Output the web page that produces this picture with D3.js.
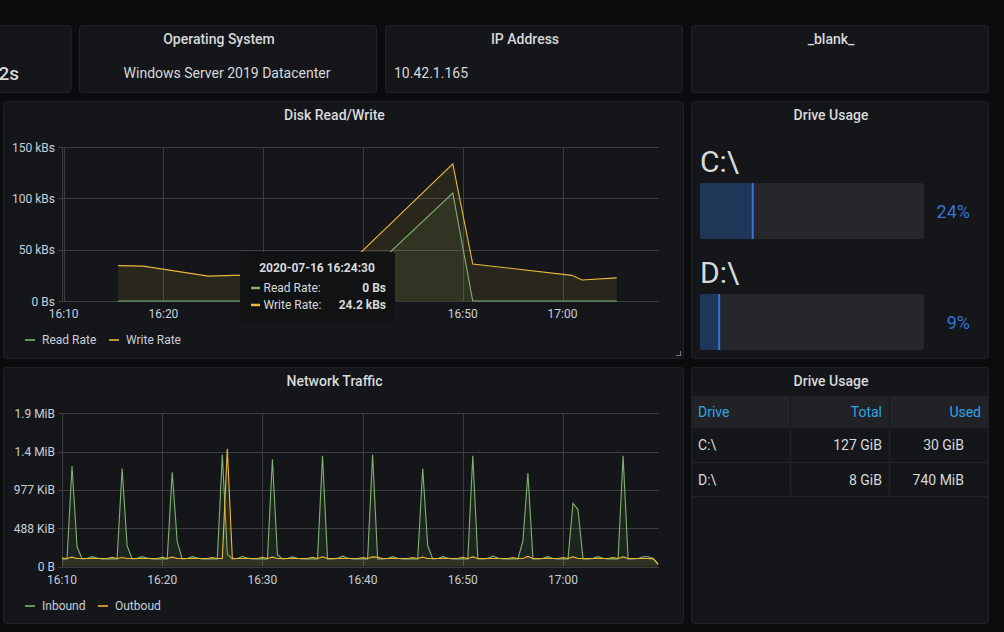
<!DOCTYPE html>
<html><head><meta charset="utf-8">
<script src="https://cdn.jsdelivr.net/npm/d3@7"></script>
<style>
html,body{margin:0;padding:0;background:#0b0c0e;overflow:hidden;}
svg{display:block;font-family:Roboto,"Open Sans",sans-serif;}
</style></head><body>
<svg id="c" width="1004" height="632"></svg>
<script>
// ---------- DATA ----------
const statTitles = ["", "Operating System", "IP Address", "_blank_"];
const statValues = ["2s", "Windows Server 2019 Datacenter", "10.42.1.165", ""];

const diskTimes = ["16:15:28","16:17:58","16:24:30","16:27:00","16:37:30","16:49:00","16:51:00","17:00:56","17:01:56","17:05:26"];
const diskRead  = [0, 0, 0, 0, 0, 105, 0, 0, 0, 0];          // kB/s
const diskWrite = [34.5, 34, 24.2, 25, 26, 133.5, 36, 25, 20.5, 22.5]; // kB/s
const diskYTicks = [0, 50, 100, 150];
const diskYLabels = ["0 Bs", "50 kBs", "100 kBs", "150 kBs"];

const netStart = "16:10:00";   // samples every 30 s
const netInbound = [ // thousand bytes
 100,100,1310,261,100,104,128,112,100,100,
 100,100,1280,270,100,106,128,110,100,100,
 100,100,1230,326,100,104,128,110,100,100,
 100,100,1460,162,100,104,130,110,100,100,
 100,100,1400,155,100,104,125,108,100,100,
 100,100,1445,100,100,106,135,110,100,100,
 100,100,1460,100,100,104,128,108,100,100,
 100,100,1280,270,100,104,128,110,100,100,
 100,100,1445,100,100,106,135,110,100,100,
 100,100,330,1220,100,100,106,128,104,100,
 100,100,827,740,100,100,106,128,108,100,
 100,100,1445,100,100,104,128,128,108,30];
const netOutbound = [ // thousand bytes
 110,104,122,105,104,104,104,104,104,104,
 120,104,118,104,104,104,104,104,104,104,
 120,104,122,104,104,104,104,104,104,104,
 118,104,105,1537,104,104,104,104,104,104,
 120,104,122,104,104,104,104,104,104,104,
 120,104,125,104,104,104,104,104,104,104,
 118,104,125,120,104,104,104,104,104,104,
 118,104,122,104,104,104,104,104,104,104,
 120,104,125,104,104,104,104,104,104,104,
 118,104,104,132,104,104,104,104,104,104,
 118,104,125,104,104,104,104,104,104,104,
 118,104,125,104,104,104,104,104,100,30];
const netYTicks = [0, 500000, 1000000, 1500000, 2000000];
const netYLabels = ["0 B", "488 KiB", "977 KiB", "1.4 MiB", "1.9 MiB"];

const xTickTimes = ["16:10","16:20","16:30","16:40","16:50","17:00"];

const driveNames = ["C:\\", "D:\\"];
const drivePct = [24, 9];

const tableHeader = ["Drive", "Total", "Used"];
const tableDrive = ["C:\\", "D:\\"];
const tableTotal = ["127 GiB", "8 GiB"];
const tableUsed = ["30 GiB", "740 MiB"];

// ---------- STYLE ----------
const C = {panel:"#141619", border:"#202226", title:"#d8d9da", text:"#c7d0d9",
  grid:"#3d3e42", green:"#7eb26d", yellow:"#eab839", blue:"#3274d9", link:"#33a2e5"};
const svg = d3.select("#c");
const pt = d3.timeParse("%H:%M:%S");
const ptm = d3.timeParse("%H:%M");

function panel(x0,y0,x1,y1,title){
  svg.append("rect").attr("x",x0+0.5).attr("y",y0+0.5).attr("width",x1-x0-1).attr("height",y1-y0-1)
    .attr("rx",3).attr("fill",C.panel).attr("stroke",C.border);
  if(title) svg.append("text").attr("x",(x0+x1)/2-9).attr("y",y0+19).attr("text-anchor","middle")
    .attr("fill",C.title).attr("font-size",14).attr("font-weight",500).text(title);
}

// ---------- TOP STAT ROW ----------
const statBoxes = [[-20,71.5],[79,377],[385,683],[691,989]];
statBoxes.forEach((b,i)=>{
  panel(b[0],25,b[1],93,statTitles[i]);
});
svg.append("text").attr("x",19).attr("y",79.5).attr("text-anchor","end").attr("fill",C.title)
  .attr("font-size",19).attr("font-weight",500).text(statValues[0]);
svg.append("text").attr("x",227).attr("y",78).attr("text-anchor","middle").attr("fill",C.title)
  .attr("font-size",14).text(statValues[1]);
svg.append("text").attr("x",394).attr("y",78).attr("fill",C.title)
  .attr("font-size",14).text(statValues[2]);

// ---------- GRAPH HELPER ----------
function graph(o){
  const g = svg.append("g");
  const x = o.x, y = o.y;
  const [xl,xr] = x.range(), [yb,yt] = y.range();
  g.selectAll(".hg").data(o.yTicks).join("line")
    .attr("x1",xl-4).attr("x2",xr).attr("y1",d=>Math.round(y(d))+0.5).attr("y2",d=>Math.round(y(d))+0.5)
    .attr("stroke",C.grid);
  const xt = xTickTimes.map(ptm);
  g.selectAll(".vg").data(xt).join("line")
    .attr("x1",d=>Math.round(x(d))+0.5).attr("x2",d=>Math.round(x(d))+0.5).attr("y1",yt).attr("y2",yb)
    .attr("stroke",C.grid);
  g.append("line").attr("x1",xl+0.5).attr("x2",xl+0.5).attr("y1",yt).attr("y2",yb).attr("stroke",C.grid);
  g.selectAll(".yl").data(o.yTicks).join("text")
    .attr("x",xl-7).attr("y",d=>y(d)+4.5).attr("text-anchor","end").attr("fill",C.text)
    .attr("font-size",12).text((d,i)=>o.yLabels[i]);
  // x labels (those hidden under an overlay are not drawn)
  const hide = o.hideX || [Infinity, -Infinity];
  const xlab = xt.map((d,i)=>({d, s:xTickTimes[i]})).filter(e=>!(x(e.d)>hide[0] && x(e.d)<hide[1]));
  g.selectAll(".xl").data(xlab).join("text")
    .attr("x",e=>x(e.d)).attr("y",yb+17).attr("text-anchor","middle").attr("fill",C.text)
    .attr("font-size",12).text(e=>e.s);
  o.series.forEach(s=>{
    const area = d3.area().x(d=>x(d.t)).y0(y(0)).y1(d=>y(d.v));
    g.append("path").attr("d",area(s.data)).attr("fill",s.color).attr("fill-opacity",0.1);
  });
  o.series.forEach(s=>{
    const line = d3.line().x(d=>x(d.t)).y(d=>y(d.v));
    g.append("path").attr("d",line(s.data)).attr("fill","none").attr("stroke",s.color).attr("stroke-width",1.1);
  });
  o.series.forEach((s,i)=>{
    g.append("line").attr("x1",o.legX[i]).attr("x2",o.legX[i]+10).attr("y1",o.legY-4).attr("y2",o.legY-4)
      .attr("stroke",s.color).attr("stroke-width",2).attr("opacity",0.8);
    g.append("text").attr("x",o.legX[i]+17).attr("y",o.legY).attr("fill",C.text).attr("font-size",12).text(s.name);
  });
  return g;
}

// ---------- DISK PANEL ----------
panel(3,101,684,359,"Disk Read/Write");
const dx = d3.scaleTime().domain([pt("16:09:50"), pt("17:09:40")]).range([62,659]);
const dy = d3.scaleLinear().domain([0,150]).range([301,147]);
graph({x:dx, y:dy, yTicks:diskYTicks, yLabels:diskYLabels, legY:344, legX:[25,109], hideX:[225,410],
  series:[
    {name:"Read Rate", color:C.green, data:diskTimes.map((t,i)=>({t:pt(t), v:diskRead[i]}))},
    {name:"Write Rate", color:C.yellow, data:diskTimes.map((t,i)=>({t:pt(t), v:diskWrite[i]}))}
  ]});
svg.append("path").attr("d","M680.5,351 V355.5 H676").attr("fill","none").attr("stroke","#6e6f73").attr("stroke-width",1.2);

// tooltip
const tt = svg.append("g");
tt.append("rect").attr("x",240).attr("y",252).attr("width",155).attr("height",70).attr("rx",3)
  .attr("fill","#111214");
tt.append("text").attr("x",317).attr("y",271.5).attr("text-anchor","middle").attr("fill",C.title)
  .attr("font-size",12).attr("font-weight",700).text("2020-07-16 " + diskTimes[2]);
[["Read Rate:", diskRead[2]+" Bs", C.green, 292],
 ["Write Rate:", diskWrite[2]+" kBs", C.yellow, 309]].forEach(r=>{
  tt.append("line").attr("x1",251).attr("x2",260).attr("y1",r[3]-4).attr("y2",r[3]-4).attr("stroke",r[2]).attr("stroke-width",2.5);
  tt.append("text").attr("x",263.5).attr("y",r[3]).attr("fill",C.title).attr("font-size",12).text(r[0]);
  tt.append("text").attr("x",386).attr("y",r[3]).attr("text-anchor","end").attr("fill",C.title)
    .attr("font-size",12).attr("font-weight",700).text(r[1]);
});

// ---------- NETWORK PANEL ----------
panel(3,367,684,624,"Network Traffic");
const n0 = pt(netStart);
const nt = i => new Date(n0.getTime() + i*30000);
const nx = d3.scaleTime().domain([pt("16:10:00"), pt("17:09:35")]).range([62,659]);
const ny = d3.scaleLinear().domain([0,2000000]).range([566.5,413.3]);
graph({x:nx, y:ny, yTicks:netYTicks, yLabels:netYLabels, legY:610, legX:[25,98],
  series:[
    {name:"Inbound", color:C.green, data:netInbound.map((v,i)=>({t:nt(i), v:v*1000}))},
    {name:"Outboud", color:C.yellow, data:netOutbound.map((v,i)=>({t:nt(i), v:v*1000}))}
  ]});

// ---------- BAR GAUGE PANEL ----------
panel(691,101,989,359,"Drive Usage");
const bx = d3.scaleLinear().domain([0,100]).range([700,924]);
const barTop = [183, 294];
driveNames.forEach((n,i)=>{
  const t = barTop[i];
  svg.append("text").attr("x",700).attr("y",t-11).attr("fill",C.title).attr("font-size",30).text(n);
  svg.append("rect").attr("x",bx(0)).attr("y",t).attr("width",bx(100)-bx(0)).attr("height",56).attr("rx",3)
    .attr("fill","#25272b");
  svg.append("rect").attr("x",bx(0)).attr("y",t).attr("width",bx(drivePct[i])-bx(0)).attr("height",56).attr("rx",2)
    .attr("fill","#1f3659");
  svg.append("rect").attr("x",bx(drivePct[i])-2).attr("y",t).attr("width",2).attr("height",56)
    .attr("fill",C.blue);
  svg.append("text").attr("x",970).attr("y",t+34.5).attr("text-anchor","end").attr("fill",C.blue)
    .attr("font-size",18).text(drivePct[i]+"%");
});

// ---------- TABLE PANEL ----------
panel(691,367,989,624,"Drive Usage");
const colX = [691,790,889,988];
svg.append("rect").attr("x",692).attr("y",396).attr("width",296).attr("height",32).attr("fill","#202226");
[1,2].forEach(c=>{
  svg.append("line").attr("x1",colX[c]+0.5).attr("x2",colX[c]+0.5).attr("y1",396).attr("y2",497).attr("stroke","#202226").attr("stroke-width",1.5);
});
svg.append("line").attr("x1",790.5).attr("x2",790.5).attr("y1",396).attr("y2",428).attr("stroke","#141619");
svg.append("line").attr("x1",889.5).attr("x2",889.5).attr("y1",396).attr("y2",428).attr("stroke","#141619");
[462.5,496.5].forEach(yy=>{
  svg.append("line").attr("x1",692).attr("x2",988).attr("y1",yy).attr("y2",yy).attr("stroke","#202226").attr("stroke-width",1.5);
});
svg.append("text").attr("x",698).attr("y",417).attr("fill",C.link).attr("font-size",14).text(tableHeader[0]);
svg.append("text").attr("x",882).attr("y",417).attr("text-anchor","end").attr("fill",C.link).attr("font-size",14).text(tableHeader[1]);
svg.append("text").attr("x",981).attr("y",417).attr("text-anchor","end").attr("fill",C.link).attr("font-size",14).text(tableHeader[2]);
tableDrive.forEach((d,i)=>{
  const yy = 450 + i*34.5;
  svg.append("text").attr("x",698).attr("y",yy).attr("fill",C.title).attr("font-size",14).text(d);
  svg.append("text").attr("x",882).attr("y",yy).attr("text-anchor","end").attr("fill",C.title).attr("font-size",14).text(tableTotal[i]);
  svg.append("text").attr("x",964).attr("y",yy).attr("text-anchor","end").attr("fill",C.title).attr("font-size",14).text(tableUsed[i]);
});
</script>
</body></html>
